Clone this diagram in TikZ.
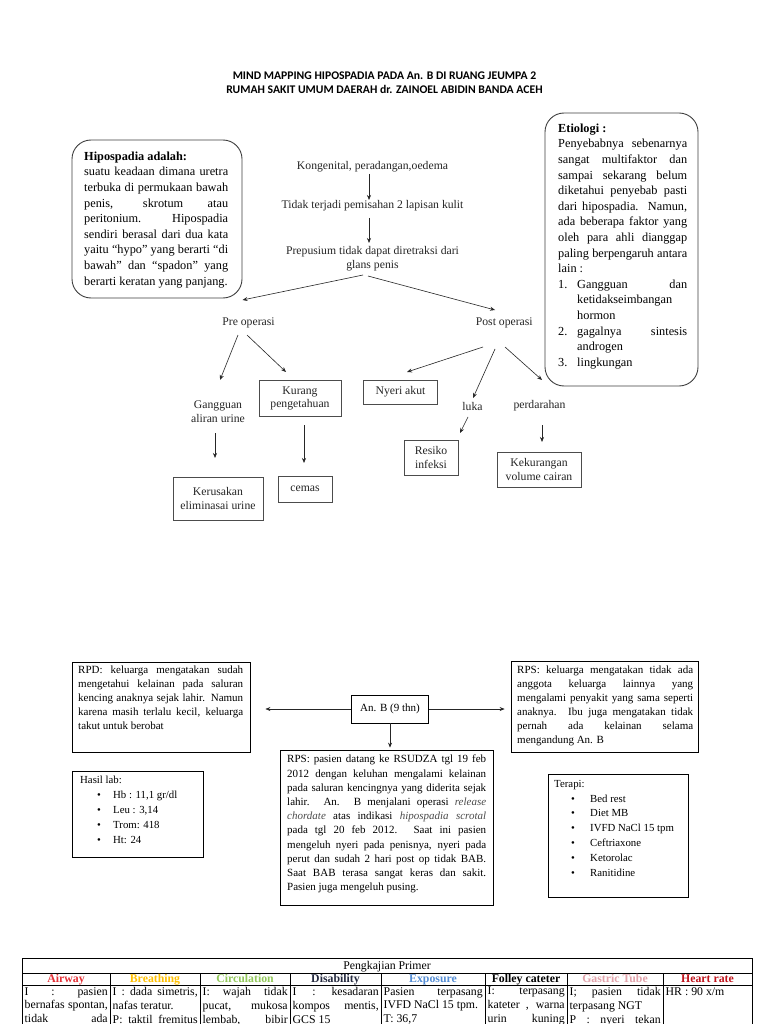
\documentclass[tikz,border=0pt]{standalone}
\usepackage{fontspec}
\setmainfont{Liberation Serif}
\newfontfamily\titlefont{Carlito}
\usetikzlibrary{arrows.meta,calc}
\newcommand\J[2]{\makebox[#1][s]{#2}}
\definecolor{cAir}{HTML}{E53238}
\definecolor{cBre}{HTML}{FFC000}
\definecolor{cCir}{HTML}{92C85A}
\definecolor{cDis}{HTML}{262B40}
\definecolor{cExp}{HTML}{558ED5}
\definecolor{cGas}{HTML}{E2A3AB}
\definecolor{cHr}{HTML}{C0151D}
\begin{document}
\begin{tikzpicture}[x=1pt,y=-1pt,
 arr/.style={-{Stealth[length=5pt,width=4pt]}, line width=0.6pt, draw=black!85},
 flowtxt/.style={font=\fontsize{11.7}{13.8}\selectfont, text=black!85, inner sep=0pt, align=center},
 flowbox/.style={flowtxt, draw=black!70, line width=0.7pt},
 roundbox/.style={draw=black!75, line width=0.9pt, rounded corners=19pt},
 para/.style={font=\fontsize{12.3}{15.6}\selectfont, inner sep=0pt, align=left, anchor=north west},
 lowpara/.style={font=\fontsize{11}{14}\selectfont, inner sep=0pt, align=left, anchor=north west},
 listpara/.style={font=\fontsize{10.8}{15}\selectfont, inner sep=0pt, align=left, anchor=north west},
 lowbox/.style={draw=black, line width=0.8pt},
 tbl/.style={draw=black, line width=0.7pt},
 cell/.style={font=\fontsize{11.8}{13.8}\selectfont, inner sep=0pt, align=left, anchor=north west},
 head/.style={font=\bfseries\fontsize{11.8}{13.8}\selectfont, inner sep=0pt, anchor=base}
]
\useasboundingbox (0,0) rectangle (768,1024);
\fill[white] (0,0) rectangle (768,1024);

% title
\node[font=\titlefont\bfseries\fontsize{11.7}{13.6}\selectfont, align=center, inner sep=0pt] (title) at (384.5,83)
 {MIND MAPPING HIPOSPADIA PADA An. B DI RUANG JEUMPA 2\\RUMAH SAKIT UMUM DAERAH dr. ZAINOEL ABIDIN BANDA ACEH};

% definition box
\node[roundbox, minimum width=170pt, minimum height=158pt] (defbox) at (157,219) {};
\node[para] (deftxt) at (84,151.5) {\textbf{Hipospadia adalah:}\\
\J{144pt}{suatu keadaan dimana uretra}\\
\J{144pt}{terbuka di permukaan bawah}\\
\J{144pt}{penis, skrotum atau}\\
\J{144pt}{peritonium. Hipospadia}\\
\J{144pt}{sendiri berasal dari dua kata}\\
\J{144pt}{yaitu “hypo” yang berarti “di}\\
\J{144pt}{bawah” dan “spadon” yang}\\
berarti keratan yang panjang.};

% etiologi box
\node[roundbox, minimum width=153pt, minimum height=273pt] (etibox) at (621.5,249.5) {};
\node[para] (etitxt) at (558,123.5) {\textbf{Etiologi :}\\
\J{129pt}{Penyebabnya sebenarnya}\\
\J{129pt}{sangat multifaktor dan}\\
\J{129pt}{sampai sekarang belum}\\
\J{129pt}{diketahui penyebab pasti}\\
\J{129pt}{dari hipospadia. Namun,}\\
\J{129pt}{ada beberapa faktor yang}\\
\J{129pt}{oleh para ahli dianggap}\\
\J{129pt}{paling berpengaruh antara}\\
lain :\\
\makebox[19pt][l]{1.}\J{110pt}{Gangguan dan}\\
\hspace*{19pt}ketidakseimbangan\\
\hspace*{19pt}hormon\\
\makebox[19pt][l]{2.}\J{110pt}{gagalnya sintesis}\\
\hspace*{19pt}androgen\\
\makebox[19pt][l]{3.}lingkungan};

% flow
\node[flowtxt] (kong) at (372.5,167) {Kongenital, peradangan,oedema};
\node[flowtxt] (tidak) at (372.5,206) {Tidak terjadi pemisahan 2 lapisan kulit};
\node[flowtxt] (prep) at (372.5,259) {Prepusium tidak dapat diretraksi dari\\glans penis};
\node[flowtxt] (pre) at (248.5,323) {Pre operasi};
\node[flowtxt] (post) at (504.3,323) {Post operasi};
\node[flowtxt] (gang) at (218,411.5) {Gangguan\\aliran urine};
\node[flowbox, minimum width=82pt, minimum height=36pt] (kurang) at (300,398.5) {Kurang\\pengetahuan};
\node[flowbox, minimum width=90pt, minimum height=43pt] (keru) at (218,498.5) {Kerusakan\\eliminasai urine};
\node[flowbox, minimum width=54pt, minimum height=26pt] (cemas) at (305,489) {cemas};
\node[flowbox, minimum width=74pt, minimum height=24pt] (nyeri) at (400.5,392) {Nyeri akut};
\node[flowtxt] (luka) at (472.5,406) {luka};
\node[flowtxt] (perd) at (539.5,406) {perdarahan};
\node[flowbox, minimum width=54pt, minimum height=35pt] (resiko) at (431,457.5) {Resiko\\infeksi};
\node[flowbox, minimum width=84pt, minimum height=35pt] (kek) at (539,469.5) {Kekurangan\\volume cairan};

\draw[arr] ([shift={(-3.5,7)}]kong.center) -- ([shift={(-3.5,-6)}]tidak.center);
\draw[arr] ([shift={(-3.5,12)}]tidak.center) -- ([shift={(-3.5,-16)}]prep.center);
\draw[arr] ([shift={(-9.5,16)}]prep.center) -- ([shift={(-6,-23)}]pre.center);
\draw[arr] ([shift={(-4.5,17)}]prep.center) -- ([shift={(-9.3,-13)}]post.center);
\draw[arr] ([shift={(-10.5,12)}]pre.center) -- ([shift={(2,-31.5)}]gang.center);
\draw[arr] ([shift={(-1.5,12)}]pre.center) -- ([shift={(-14,-26.5)}]kurang.center);
\draw[arr] ([shift={(-3,21.5)}]gang.center) -- ([shift={(-3,-40.5)}]keru.center);
\draw[arr] ([shift={(4,26.5)}]kurang.center) -- ([shift={(-1,-26)}]cemas.center);
\draw[arr] ([shift={(-21.3,24)}]post.center) -- ([shift={(6.5,-20)}]nyeri.center);
\draw[arr] ([shift={(-9.3,26)}]post.center) -- ([shift={(0.5,-8)}]luka.center);
\draw[arr] ([shift={(0.7,24)}]post.center) -- ([shift={(2.5,-26)}]perd.center);
\draw[arr] ([shift={(-4.5,11)}]luka.center) -- ([shift={(29,-24.5)}]resiko.center);
\draw[arr] ([shift={(2.5,19)}]perd.center) -- ([shift={(3,-27.5)}]kek.center);

% lower section
\node[lowbox, minimum width=178pt, minimum height=90pt] (rpd) at (161,707) {};
\node[lowpara] (rpdtxt) at (78,666) {\J{165pt}{RPD: keluarga mengatakan sudah}\\
\J{165pt}{mengetahui kelainan pada saluran}\\
\J{165pt}{kencing anaknya sejak lahir. Namun}\\
\J{165pt}{karena masih terlalu kecil, keluarga}\\
takut untuk berobat};

\node[lowbox, minimum width=187pt, minimum height=91pt] (rpsr) at (604.5,706.5) {};
\node[lowpara] (rpsrtxt) at (517,666) {\J{176pt}{RPS: keluarga mengatakan tidak ada}\\
\J{176pt}{anggota keluarga lainnya yang}\\
\J{176pt}{mengalami penyakit yang sama seperti}\\
\J{176pt}{anaknya. Ibu juga mengatakan tidak}\\
\J{176pt}{pernah ada kelainan selama}\\
mengandung An. B};

\node[lowbox, font=\fontsize{11}{13}\selectfont, minimum width=77pt, minimum height=28pt] (anb) at (390,709) {An. B (9 thn)};

\node[lowbox, minimum width=213pt, minimum height=155pt] (rps2) at (386.5,827.5) {};
\node[lowpara, font=\fontsize{11}{14.2}\selectfont] (rps2txt) at (287,755) {\J{199pt}{RPS: pasien datang ke RSUDZA tgl 19 feb}\\
\J{199pt}{2012 dengan keluhan mengalami kelainan}\\
\J{199pt}{pada saluran kencingnya yang diderita sejak}\\
\J{199pt}{lahir. An. B menjalani operasi \textcolor{black!70}{\textit{release}}}\\
\J{199pt}{\textcolor{black!70}{\textit{chordate}} atas indikasi \textcolor{black!70}{\textit{hipospadia scrotal}}}\\
\J{199pt}{pada tgl 20 feb 2012. Saat ini pasien}\\
\J{199pt}{mengeluh nyeri pada penisnya, nyeri pada}\\
\J{199pt}{perut dan sudah 2 hari post op tidak BAB.}\\
\J{199pt}{Saat BAB terasa sangat keras dan sakit.}\\
Pasien juga mengeluh pusing.};

\draw[arr, shorten >=15pt] (anb.west) -- (anb.west -| rpd.east);
\draw[arr, shorten >=6pt] (anb.east) -- (anb.east -| rpsr.west);
\draw[arr, shorten >=2pt] (anb.south) -- (anb.south |- rps2.north);

\node[lowbox, minimum width=131pt, minimum height=86pt] (lab) at (137.5,814) {};
\node[listpara] (labtxt) at (80,775.5) {Hasil lab:\\
\hspace*{17pt}\makebox[16pt][l]{\textbullet}Hb : 11,1 gr/dl\\
\hspace*{17pt}\makebox[16pt][l]{\textbullet}Leu : 3,14\\
\hspace*{17pt}\makebox[16pt][l]{\textbullet}Trom: 418\\
\hspace*{17pt}\makebox[16pt][l]{\textbullet}Ht: 24};

\node[lowbox, minimum width=140pt, minimum height=123pt] (terapi) at (618,835.5) {};
\node[listpara, font=\fontsize{10.8}{14.8}\selectfont] (terapitxt) at (554,780) {Terapi:\\
\hspace*{17pt}\makebox[19pt][l]{\textbullet}Bed rest\\
\hspace*{17pt}\makebox[19pt][l]{\textbullet}Diet MB\\
\hspace*{17pt}\makebox[19pt][l]{\textbullet}IVFD NaCl 15 tpm\\
\hspace*{17pt}\makebox[19pt][l]{\textbullet}Ceftriaxone\\
\hspace*{17pt}\makebox[19pt][l]{\textbullet}Ketorolac\\
\hspace*{17pt}\makebox[19pt][l]{\textbullet}Ranitidine};

% table
\draw[tbl] (22,1040) -- (22,958) -- (752,958) -- (752,1040);
\draw[tbl] (22,973) -- (752,973);
\draw[tbl] (22,985.5) -- (752,985.5);
\foreach \x in {110,200,290,381,485,567,663} \draw[tbl] (\x,973) -- (\x,1040);
\node[cell, anchor=base] (tt) at (387,969.5) {Pengkajian Primer};
\node[head, text=cAir] (hA) at (66,982.5) {Airway};
\node[head, text=cBre] (hB) at (155,982.5) {Breathing};
\node[head, text=cCir] (hC) at (245,982.5) {Circulation};
\node[head, text=cDis] (hD) at (335.5,982.5) {Disability};
\node[head, text=cExp] (hE) at (433,982.5) {Exposure};
\node[head, text=black] (hF) at (526,982.5) {Folley cateter};
\node[head, text=cGas] (hG) at (615,982.5) {Gastric Tube};
\node[head, text=cHr] (hH) at (707.5,982.5) {Heart rate};

\node[cell] (dA) at (24.5,987) {\J{83pt}{I : pasien}\\\J{83pt}{bernafas spontan,}\\\J{83pt}{tidak ada}};
\node[cell] (dB) at (112.5,987) {\J{85pt}{I : dada simetris,}\\nafas teratur.\\\J{85pt}{P: taktil fremitus}};
\node[cell] (dC) at (202.5,987) {\J{85pt}{I: wajah tidak}\\\J{85pt}{pucat, mukosa}\\\J{85pt}{lembab, bibir}};
\node[cell] (dD) at (292.5,987) {\J{86pt}{I : kesadaran}\\\J{86pt}{kompos mentis,}\\GCS 15};
\node[cell] (dE) at (383.5,987) {\J{99pt}{Pasien terpasang}\\IVFD NaCl 15 tpm.\\T: 36,7};
\node[cell] (dF) at (487.5,987) {\J{77pt}{I: terpasang}\\\J{77pt}{kateter , warna}\\\J{77pt}{urin kuning}};
\node[cell] (dG) at (569.5,987) {\J{91pt}{I; pasien tidak}\\terpasang NGT\\\J{91pt}{P : nyeri tekan}};
\node[cell] (dH) at (665.5,987) {HR : 90 x/m};
\end{tikzpicture}
\end{document}
